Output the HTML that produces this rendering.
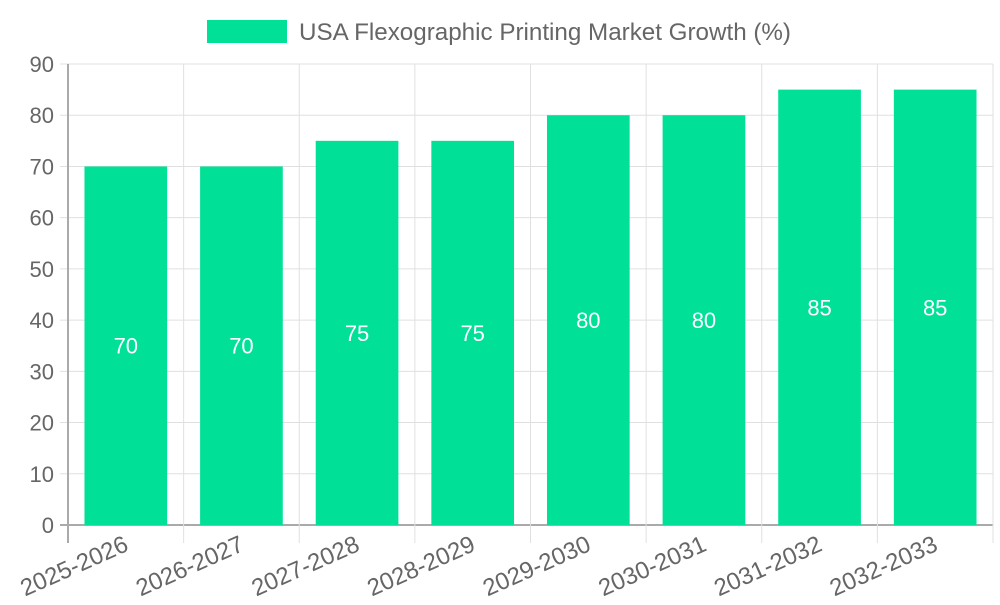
<!DOCTYPE html>
<html><head><meta charset="utf-8"><style>
body{margin:0;background:#fff;}
svg text{font-family:"Liberation Sans",sans-serif;}
</style></head><body>
<svg id="c" width="1000" height="600">
<rect x="207" y="20" width="80" height="23" fill="#00e096"/>
<text x="299" y="40" font-size="24.2" fill="#666">USA Flexographic Printing Market Growth (%)</text>
<g id="grid"></g><g id="bars"></g>
</svg>
<script>
const categories=["2025-2026","2026-2027","2027-2028","2028-2029","2029-2030","2030-2031","2031-2032","2032-2033"];
const values=[70,70,75,75,80,80,85,85];
const yTicks=[0,10,20,30,40,50,60,70,80,90];
const L=68,R=993,T=64,B=525,yMax=90;
const ns="http://www.w3.org/2000/svg";
const y=v=>B-(v/yMax)*(B-T);
const bw=(R-L)/categories.length;
const x=i=>L+i*bw;
const g=document.getElementById('grid'),bg=document.getElementById('bars');
function mk(tag,a,p,txt){const e=document.createElementNS(ns,tag);for(const k in a)e.setAttribute(k,a[k]);if(txt!==undefined)e.textContent=txt;p.appendChild(e);return e;}
yTicks.forEach(t=>{
 const l=mk('line',{x1:L-8,x2:R,y1:y(t),y2:y(t),stroke:t===0?'#aaa':'#e0e0e0','stroke-width':t===0?2:1},g);
 
 
 const tx=mk('text',{x:L-14,y:y(t)+8,'text-anchor':'end','font-size':22,fill:'#666'},g,t);
 
 
});
for(let i=0;i<=categories.length;i++){
 const l=mk('line',{x1:x(i),x2:x(i),y1:T,y2:B+18,stroke:i===0?'#aaa':'#e0e0e0','stroke-width':i===0?2:1},g);
 
 
}
categories.forEach((c,i)=>{
 const w=bw*0.715,cx=x(i)+bw/2;
 const r=mk('rect',{x:cx-w/2,y:y(values[i]),width:w,height:B-y(values[i]),fill:'#00e096'},bg);
 
 
 const v=mk('text',{x:cx,y:(y(values[i])+B)/2+8,'text-anchor':'middle','font-size':22,fill:'#fff'},bg,values[i]);
 
 
 const ax=cx+4,ay=550;
 const t=mk('text',{x:ax,y:ay,'text-anchor':'end','font-size':24,fill:'#666',transform:`rotate(-24 ${ax} ${ay})`},bg,c);
 
 
});
</script>
</body></html>
